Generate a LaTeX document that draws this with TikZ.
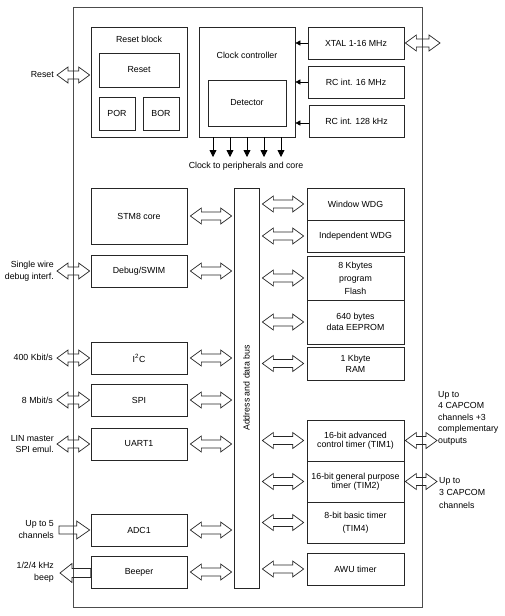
\documentclass[tikz,border=0pt]{standalone}
\usepackage{fontspec}
\setmainfont{Liberation Sans}
\usetikzlibrary{calc,arrows.meta}
\newcommand{\dblarrow}[2]{%
  \draw[hollow] let \p1=#1, \p2=#2 in
    (\x1,\y1) -- (\x1+11pt,\y1+8pt) -- (\x1+11pt,\y1+4pt) -- (\x2-11pt,\y1+4pt)
    -- (\x2-11pt,\y1+8pt) -- (\x2,\y1) -- (\x2-11pt,\y1-8pt) -- (\x2-11pt,\y1-4pt)
    -- (\x1+11pt,\y1-4pt) -- (\x1+11pt,\y1-8pt) -- cycle;}
\begin{document}
\begin{tikzpicture}[x=1pt,y=-1pt,font=\fontsize{8.8}{10.5}\selectfont,
  box/.style={draw=black!85,line width=0.7pt,inner sep=0pt,align=center},
  bx/.style 2 args={box,minimum width=#1pt,minimum height=#2pt},
  hollow/.style={draw=black!85,line width=0.7pt},
  lbl/.style={inner sep=0pt},
  lftlbl/.style={lbl,anchor=east,align=right},
  rgtlbl/.style={lbl,anchor=west,align=left},
  clkarr/.style={draw=black,line width=0.8pt,-{Triangle[length=7pt,width=7pt]}},
  smarr/.style={draw=black,line width=0.7pt,-{Triangle[length=5pt,width=5pt]}}]
\useasboundingbox (0,0) rectangle (504,616);
\fill[white] (0,0) rectangle (504,616);
% outer
\node[bx={349}{600},draw=black!70] (outer) at (247.5,307) {};
% reset block
\node[bx={96}{110}] (resetblk) at (139,82) {};
\node[lbl] (resettitle) at (139,39) {Reset block};
\node[bx={80}{34}] (reset) at (139,70) {Reset};
\node[bx={36}{33}] (por) at (117,113.5) {POR};
\node[bx={36}{33}] (bor) at (161,113.5) {BOR};
% clock controller
\node[bx={96}{110}] (clk) at (247,82) {};
\node[lbl] (clktitle) at (247,55) {Clock controller};
\node[bx={78}{46}] (det) at (247,103) {\raisebox{-3pt}{Detector}};
\node[bx={96}{32}] (xtal) at (356,43) {XTAL 1-16 MHz};
\node[bx={96}{32}] (rc16) at (356,82) {RC int. 16 MHz};
\node[bx={95}{32}] (rc128) at (356.5,121) {RC int. 128 kHz};
\draw[smarr] (xtal.west) -- (xtal.west -| clk.east);
\draw[smarr] (rc16.west) -- (rc16.west -| clk.east);
\draw[smarr] ([yshift=-2pt]rc128.west) -- ([yshift=-2pt]rc128.west -| clk.east);
\coordinate (clkend) at (247,157);
\foreach \dx in {-34,-17,0,17,34}
  \draw[clkarr] ([xshift=\dx pt]clk.south) -- ([xshift=\dx pt]clkend);
\node[lbl] (clklbl) at (246,166) {Clock to peripherals and core};
% left column
\node[bx={96}{56}] (stm) at (139,216) {STM8 core};
\node[bx={96}{32}] (debug) at (139,271) {Debug/SWIM};
\node[bx={96}{32}] (i2c) at (139,358) {I\textsuperscript{2}C};
\node[bx={96}{32}] (spi) at (139,400) {SPI};
\node[bx={96}{32}] (uart) at (139,444) {UART1};
\node[bx={96}{32}] (adc) at (139,530) {ADC1};
\node[bx={96}{32}] (beep) at (139,572) {Beeper};
% bus
\node[bx={25}{400}] (bus) at (246.5,388) {};
\node[lbl,rotate=90] (buslbl) at (bus.center) {Address and data bus};
% right column
\node[bx={97}{32}] (wwdg) at (355.5,204) {Window WDG};
\node[bx={97}{32}] (iwdg) at (355.5,236) {Independent WDG};
\node[bx={97}{44},font=\fontsize{8.8}{13}\selectfont] (flash) at (355.5,278) {8 Kbytes\\program\\Flash};
\node[bx={97}{44},font=\fontsize{8.8}{11}\selectfont] (eeprom) at (355.5,322) {640 bytes\\data EEPROM};
\node[bx={97}{33},font=\fontsize{8.8}{11}\selectfont] (ram) at (355.5,363.5) {1 Kbyte\\RAM};
\node[bx={97}{41},font=\fontsize{8.8}{9.5}\selectfont] (tim1) at (355.5,440.5) {16-bit advanced\\control timer (TIM1)};
\node[bx={97}{41},font=\fontsize{8.8}{9.5}\selectfont] (tim2) at (355.5,481.5) {16-bit general purpose\\timer (TIM2)};
\node[bx={97}{41},font=\fontsize{8.8}{13}\selectfont] (tim4) at (355.5,522.5) {8-bit basic timer\\(TIM4)};
\node[bx={97}{32}] (awu) at (355.5,569) {AWU timer};
% bus arrows left
\foreach \blk in {stm,debug,i2c,spi,uart,adc,beep}
  \dblarrow{([xshift=3pt]\blk.east)}{([xshift=-2pt]\blk.east -| bus.west)};
% bus arrows right
\foreach \blk in {wwdg,iwdg,flash,eeprom,ram,tim1,tim2,tim4,awu}
  \dblarrow{([xshift=3pt]\blk.west -| bus.east)}{([xshift=-3pt]\blk.west)};
% external pins
\coordinate (pinl) at (57,0);
\coordinate (pinr) at (440,0);
\coordinate (pinr2) at (437,0);
\dblarrow{([yshift=7pt]resetblk.west -| pinl)}{([xshift=-1pt,yshift=7pt]resetblk.west)};
\foreach \blk in {debug,i2c,spi,uart}
  \dblarrow{(\blk.west -| pinl)}{([xshift=-1pt]\blk.west)};
\dblarrow{([xshift=1pt]xtal.east)}{(xtal.east -| pinr)};
\dblarrow{([xshift=1pt]tim1.east)}{(tim1.east -| pinr2)};
\dblarrow{([xshift=1pt]tim2.east)}{(tim2.east -| pinr2)};
% ADC single arrow (in)
\coordinate (adcpin) at (59,530);
\draw[hollow] let \p1=(adcpin), \p2=([xshift=-1pt]adc.west) in
  (\x1,\y1+4pt) -- (\x2-13pt,\y1+4pt) -- (\x2-13pt,\y1+9pt) -- (\x2,\y1)
  -- (\x2-13pt,\y1-9pt) -- (\x2-13pt,\y1-4pt) -- (\x1,\y1-4pt) -- cycle;
% Beeper single arrow (out)
\coordinate (beeppin) at (60,573);
\draw[hollow] let \p1=(beeppin), \p2=(beep.west) in
  (\x1,\y1) -- (\x1+12pt,\y1+9.5pt) -- (\x1+12pt,\y1+4.5pt) -- (\x2,\y1+4.5pt)
  -- (\x2,\y1-4.5pt) -- (\x1+12pt,\y1-4.5pt) -- (\x1+12pt,\y1-9.5pt) -- cycle;
% external labels
\node[lftlbl] (lreset) at (54,75) {Reset};
\node[lftlbl,font=\fontsize{8.8}{11.5}\selectfont] (ldebug) at (54,271) {Single wire\\debug interf.};
\node[lftlbl] (li2c) at (53,357) {400 Kbit/s};
\node[lftlbl] (lspi) at (53,400) {8 Mbit/s};
\node[lftlbl,font=\fontsize{8.8}{11}\selectfont] (luart) at (54,444) {LIN master\\SPI emul.};
\node[lftlbl,font=\fontsize{8.8}{12}\selectfont] (ladc) at (54,530) {Up to 5\\channels};
\node[lftlbl,font=\fontsize{8.8}{12}\selectfont] (lbeep) at (54,572) {1/2/4 kHz\\beep};
\node[rgtlbl,font=\fontsize{8.8}{11.5}\selectfont] (ltim1) at (438,418) {Up to\\4 CAPCOM\\channels +3\\complementary\\outputs};
\node[rgtlbl,font=\fontsize{8.8}{12.5}\selectfont] (ltim2) at (439,493) {Up to\\3 CAPCOM\\channels};
\end{tikzpicture}
\end{document}
